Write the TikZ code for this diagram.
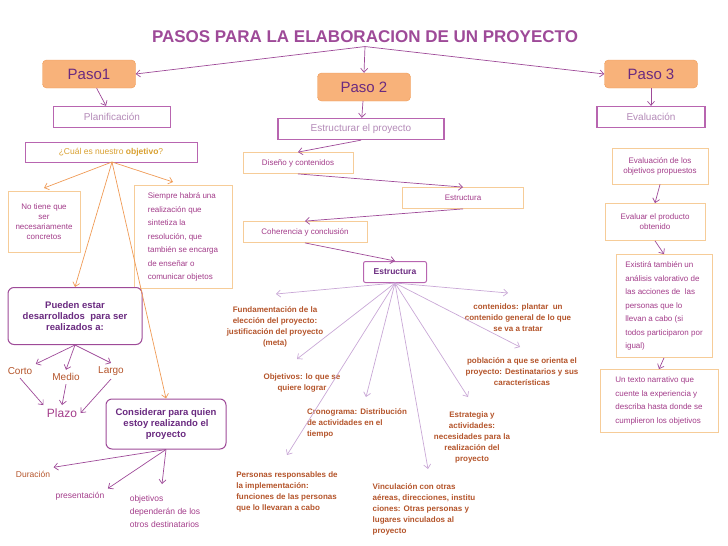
\documentclass[tikz,border=0pt]{standalone}
\usepackage{fontspec}
\setmainfont{Liberation Sans}
\usetikzlibrary{arrows.meta}
\definecolor{pl}{HTML}{9E4A98}
\definecolor{pbox}{HTML}{B865B0}
\definecolor{obox}{HTML}{F6CC98}
\definecolor{oline}{HTML}{EF9A55}
\definecolor{ptext}{HTML}{A33C8A}
\definecolor{btext}{HTML}{B4542A}
\definecolor{ltext}{HTML}{B48AB8}
\definecolor{ofill}{HTML}{F8B27A}
\definecolor{dpur}{HTML}{6A2A80}
\definecolor{lav}{HTML}{C9A8D6}
\definecolor{gold}{HTML}{D8A030}
\tikzset{
 pasobox/.style={draw=oline,fill=ofill,rounded corners=4pt,minimum width=93pt,minimum height=28pt,font=\fontsize{15}{17}\selectfont,text=dpur},
 titlebox/.style={draw=pbox,line width=1.3pt,fill=white,minimum height=21pt,font=\fontsize{10}{12}\selectfont,text=ltext},
 tbox/.style={draw=obox,line width=0.8pt,fill=white,font=\fontsize{8}{10}\selectfont,text=ptext,align=center},
 bigbox/.style={draw=pl,line width=1pt,fill=white,rounded corners=6pt,font=\bfseries\fontsize{9.5}{11}\selectfont,text=dpur,align=center},
 btxt/.style={font=\bfseries\fontsize{8}{11}\selectfont,text=btext,align=center},
 parr/.style={-{Straight Barb[length=4pt,width=7pt]},draw=pl,line width=0.7pt},
 oarr/.style={-{Straight Barb[length=4pt,width=7pt]},draw=oline,line width=0.7pt},
 larr/.style={-{Straight Barb[length=4pt,width=7pt]},draw=lav,line width=0.7pt},
}
\begin{document}
\begin{tikzpicture}[x=1pt,y=-1pt]
\useasboundingbox (0,0) rectangle (728,546);
\node[font=\bfseries\fontsize{17}{20}\selectfont,text=pl] (title) at (365,37) {PASOS PARA LA ELABORACION DE UN PROYECTO};
\node[pasobox] (p1) at (89,74) {Paso1};
\node[pasobox] (p2) at (364,87) {Paso 2};
\node[pasobox] (p3) at (651,74) {Paso 3};
\node[titlebox,minimum width=117pt] (plan) at (112,117) {Planificación};
\node[titlebox,minimum width=166pt] (estr) at (361,129) {Estructurar el proyecto};
\node[titlebox,minimum width=108pt] (eval) at (651,117) {Evaluación};
\draw[parr] (title.south) -- (p1.east);
\draw[parr] (title.south) -- (p2.north);
\draw[parr] (title.south) -- (p3.west);
\draw[parr] (p1) -- (plan);
\draw[parr] (p2) -- (estr);
\draw[parr] (p3) -- (eval);
% Paso 1
\node[draw=pbox,line width=0.8pt,minimum width=172pt,minimum height=20pt,font=\fontsize{8.5}{10}\selectfont,text=gold] (obj) at (111,152) {¿Cuál es nuestro \textbf{objetivo}?};
\node[tbox,minimum width=72pt,minimum height=61pt] (not) at (44,222) {No tiene que\\ser\\necesariamente\\concretos};
\node[tbox,minimum width=98pt,minimum height=103pt,align=left,font=\fontsize{8}{13.5}\selectfont] (siem) at (183,237) {Siempre habrá una\\realización que\\sintetiza la\\resolución, que\\también se encarga\\de enseñar o\\comunicar objetos};
\node[bigbox,minimum width=134pt,minimum height=57pt] (pued) at (75,316) {Pueden estar\\desarrollados\ \ para ser\\realizados a:};
\node[bigbox,minimum width=120pt,minimum height=50pt] (cons) at (166,424) {Considerar para quien\\estoy realizando el\\proyecto};
\coordinate (oc) at (112,162);
\draw[oarr] (oc) -- (44,188);
\draw[oarr] (oc) -- (173,182);
\draw[oarr] (oc) -- (pued.north);
\draw[oarr] (oc) -- (cons.north);
\node[font=\fontsize{10}{12}\selectfont,text=btext] (cor) at (20,371) {Corto};
\node[font=\fontsize{10}{12}\selectfont,text=btext] (med) at (66,377) {Medio};
\node[font=\fontsize{10}{12}\selectfont,text=btext] (lar) at (111,371) {Largo};
\node[font=\fontsize{12}{14}\selectfont,text=ptext] (pla) at (62,413) {Plazo};
\draw[parr] (pued.south) -- (cor.north east);
\draw[parr] (pued.south) -- (med.north);
\draw[parr] (pued.south) -- (lar.north);
\draw[parr] (cor.south) -- (pla.north west);
\draw[parr] (med.south) -- (pla.north);
\draw[parr] (lar.south) -- (pla.east);
\node[font=\fontsize{8.5}{10}\selectfont,text=btext] (dur) at (33,474) {Duración};
\node[font=\fontsize{8.5}{10}\selectfont,text=ptext] (pres) at (80,496) {presentación};
\node[font=\fontsize{8.5}{13}\selectfont,text=ptext,align=left] (objs) at (165,511) {objetivos\\dependerán de los\\otros destinatarios};
\draw[parr] (cons.south) -- (dur.north east);
\draw[parr] (cons.south) -- (pres.north east);
\draw[parr] (cons.south) -- (162,484);
% Paso 2
\node[tbox,minimum width=110pt,minimum height=21pt] (dis) at (298,163) {Diseño y contenidos};
\node[tbox,minimum width=121pt,minimum height=21pt] (es1) at (463,198) {Estructura};
\node[tbox,minimum width=124pt,minimum height=21pt] (coh) at (305,232) {Coherencia y conclusión};
\node[draw=pbox,line width=1pt,rounded corners=2pt,minimum width=63pt,minimum height=21pt,font=\bfseries\fontsize{8.5}{10}\selectfont,text=dpur] (es2) at (395,272) {Estructura};
\draw[parr] (estr.south) -- (dis.north);
\draw[parr] (dis.south) -- (es1.north);
\draw[parr] (es1.south) -- (coh.north);
\draw[parr] (coh.south) -- (es2.north);
\node[btxt] (fun) at (275,327) {Fundamentación de la\\elección del proyecto:\\justificación del proyecto\\(meta)};
\node[btxt] (obj2) at (302,383) {Objetivos: lo que se\\quiere lograr};
\node[btxt,align=left] (cro) at (357,423) {Cronograma: Distribución\\de actividades en el\\tiempo};
\node[btxt,align=left] (per) at (287,492) {Personas responsables de\\la implementación:\\funciones de las personas\\que lo llevaran a cabo};
\node[btxt,align=left] (vin) at (424,509) {Vinculación con otras\\aéreas, direcciones, institu\\ciones: Otras personas y\\lugares vinculados al\\proyecto};
\node[btxt] (est) at (472,437) {Estrategia y\\actividades:\\necesidades para la\\realización del\\proyecto};
\node[btxt] (pob) at (522,372) {población a que se orienta el\\proyecto: Destinatarios y sus\\características};
\node[btxt] (con) at (518,318) {contenidos: plantar\ \ un\\contenido general de lo que\\se va a tratar};
\coordinate (eh) at (395,283);
\draw[larr] (eh) -- (276,294);
\draw[larr] (eh) -- (297,359);
\draw[larr] (eh) -- (366,397);
\draw[larr] (eh) -- (287,455);
\draw[larr] (eh) -- (428,469);
\draw[larr] (eh) -- (468,397);
\draw[larr] (eh) -- (520,347);
\draw[larr] (eh) -- (508,293);
% Paso 3
\node[tbox,minimum width=96pt,minimum height=36pt] (ev1) at (660,166) {Evaluación de los\\objetivos propuestos};
\node[tbox,minimum width=100pt,minimum height=37pt] (ev2) at (655,222) {Evaluar el producto\\obtenido};
\node[tbox,minimum width=96pt,minimum height=103pt,align=left,font=\fontsize{8}{13.5}\selectfont] (ex) at (664,306) {Existirá también un\\análisis valorativo de\\las acciones de\ \ las\\personas que lo\\llevan a cabo (si\\todos participaron por\\igual)};
\node[tbox,minimum width=118pt,minimum height=63pt,align=left,font=\fontsize{8}{13.5}\selectfont] (ut) at (659,401) {Un texto narrativo que\\cuente la experiencia y\\describa hasta donde se\\cumplieron los objetivos};
\draw[parr] (ev1.south) -- (ev2.north);
\draw[parr] (ev2.south) -- (ex.north);
\draw[parr] (ex.south) -- (ut.north);
\end{tikzpicture}
\end{document}
